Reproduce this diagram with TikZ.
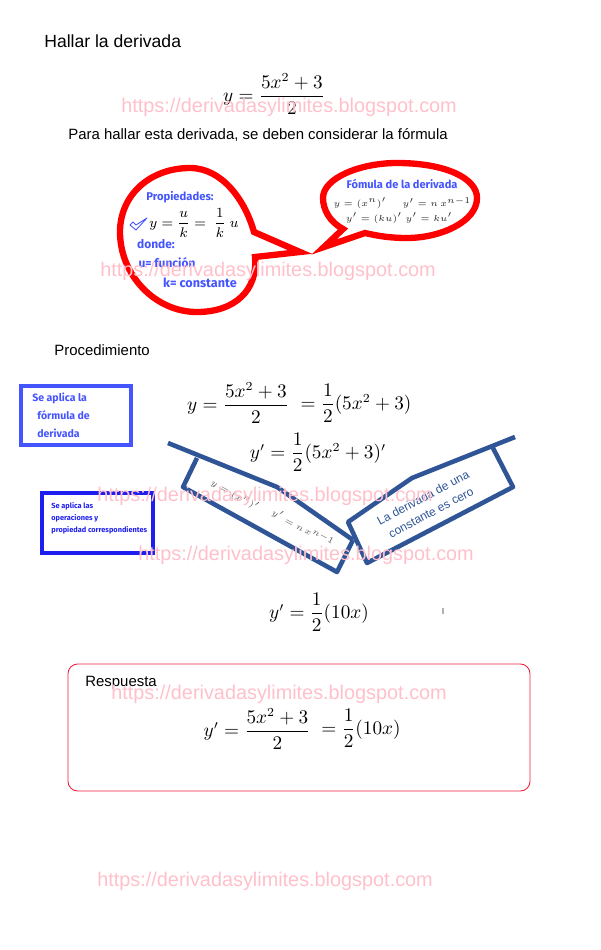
\documentclass[tikz,border=0pt]{standalone}
\usepackage{amsmath}
\usepackage{amssymb}
\usepackage{fontspec}
\setmainfont{Liberation Sans}
\newfontfamily\handfont{Fira Sans}[BoldFont={Fira Sans Bold}]
\usetikzlibrary{positioning}
\definecolor{markColor}{RGB}{255,192,203}
\definecolor{noteColor}{RGB}{68,84,255}
\definecolor{deepColor}{RGB}{30,30,240}
\definecolor{bandColor}{RGB}{47,85,151}
\definecolor{balloonColor}{RGB}{255,0,0}
\definecolor{boxColor}{RGB}{240,30,60}

\begin{document}
\begin{tikzpicture}[x=0.02cm,y=-0.02cm]

          \tikzstyle{normalNode} = [black, inner sep=0pt, font=\fontsize{10}{12}\selectfont];
          \tikzstyle{mathNode} = [black, inner sep=0pt, font=\fontsize{10.5}{13}\selectfont];
          \tikzstyle{smallMath} = [black!85, inner sep=0pt, font=\fontsize{5.4}{7}\selectfont];
          \tikzstyle{noteNode} = [noteColor, inner sep=0pt, align=left, font=\handfont\bfseries\fontsize{6.8}{13}\selectfont];
          \tikzstyle{tinyNote} = [deepColor, inner sep=0pt, align=left, font=\handfont\bfseries\fontsize{4.2}{7}\selectfont];
          \tikzstyle{markNode} = [markColor, inner sep=0pt, font=\fontsize{11.3}{13}\selectfont];
          \tikzstyle{bandText} = [bandColor, inner sep=0pt, align=center, font=\fontsize{6.8}{9.5}\selectfont];

          \tikzstyle{balloonEdge} = [balloonColor, line width=3.6pt, miter limit=20, fill=white];
          \tikzstyle{bandEdge} = [bandColor, line width=2.6pt, line join=round];
          \tikzstyle{noteBox} = [noteColor, line width=2.3pt];
          \tikzstyle{deepBox} = [deepColor, line width=2.3pt];

          \useasboundingbox (0,0) rectangle (600,950);

          % titles
          \node[normalNode, anchor=west] (title) at (44,41) {Hallar la derivada};
          \node[mathNode] (given) at (274,94) {$y=\dfrac{5x^2+3}{2}$};
          \node[normalNode, anchor=west, font=\fontsize{8.5}{10}\selectfont] (intro) at (68,135) {Para hallar esta derivada, se deben considerar la fórmula};

          % balloons
          \draw[balloonEdge] (343,229) .. controls (330,222) and (323,210) .. (323,198)
            .. controls (323,178) and (360,163) .. (397,163)
            .. controls (445,163) and (477,178) .. (477,198)
            .. controls (477,222) and (440,238) .. (407,238)
            .. controls (390,238) and (378,236) .. (365,233)
            -- (324,247) -- cycle;
          \draw[balloonEdge] (254,232) .. controls (245,200) and (222,168) .. (190,168)
            .. controls (150,168) and (120,195) .. (120,232)
            .. controls (120,275) and (155,312) .. (197,312)
            .. controls (235,312) and (258,290) .. (255,257)
            -- (300,252) -- cycle;

          \node[noteNode, font=\handfont\bfseries\fontsize{6.4}{8}\selectfont] (props) at (180,197) {Propiedades:};
          \node[mathNode, font=\fontsize{7.6}{9}\selectfont] (rule) at (194,223) {$y=\dfrac{u}{k}=\ \dfrac{1}{k}\ u$};
          \draw[noteColor, line width=0.5pt, line join=round] (130,225) -- (136,230) -- (147,218) -- (136,225) -- (133,222) -- cycle;
          \node[noteNode] (where) at (156,244) {donde:};
          \node[noteNode] (fun) at (167,263) {u= función};
          \node[noteNode, font=\handfont\bfseries\fontsize{7.2}{9}\selectfont] (const) at (200,283) {k= constante};
          \node[noteNode, font=\handfont\bfseries\fontsize{6.3}{8}\selectfont] (formula) at (402,184) {Fómula de la derivada};
          \node[smallMath] (powA) at (360,203) {$y=(x^n)'$};
          \node[smallMath] (powB) at (437,203) {$y'=n\,x^{n-1}$};
          \node[smallMath] (constA) at (374,218) {$y'=(ku)'$};
          \node[smallMath] (constB) at (429,218) {$y'=ku'$};

          % steps
          \node[normalNode, anchor=west, font=\fontsize{8.5}{10}\selectfont] (steps) at (54,350) {Procedimiento};
          \draw[noteBox] (21,386) rectangle (131,445);
          \node[noteNode, anchor=north west, font=\handfont\bfseries\fontsize{6}{10.2}\selectfont] (noteA) at (32,393) {Se aplica la\\[0pt]\ \ fórmula de\\[0pt]\ \ derivada};
          \draw[deepBox] (42,493) rectangle (153,553);
          \node[tinyNote, anchor=north west] (noteB) at (51,502) {Se aplica las\\operaciones y\\propiedad correspondientes};

          \node[mathNode] (stepA) at (238,403) {$y=\dfrac{5x^2+3}{2}$};
          \node[mathNode] (stepB) at (356,403) {$=\dfrac{1}{2}(5x^2+3)$};
          \node[mathNode] (stepC) at (318,452) {$y'=\dfrac{1}{2}(5x^2+3)'$};
          \node[mathNode] (stepD) at (319,612) {$y'=\dfrac{1}{2}(10x)$};
          \fill[gray!60] (442,608) rectangle (444,614);

          % tilted notes
          \draw[bandEdge] (168,443) -- (277,487) -- (353,540);
          \draw[bandEdge] (197,458) -- (183,487) -- (337,572) -- (353,540);
          \draw[bandEdge] (515,437) -- (412,478) -- (348,522) -- (367,563) -- (513,487) -- (493,448);
          \node[smallMath, rotate=-29, gray!70!black] (tiltA) at (235,495) {$y=(x^n)'$};
          \node[smallMath, rotate=-29, gray!70!black] (tiltB) at (303,528) {$y'=n\,x^{n-1}$};
          \node[bandText, rotate=28] (tiltC) at (427,505) {La derivada de una\\constante es cero};

          % answer
          \draw[boxColor, rounded corners=5.5pt, line width=0.5pt] (68,664) rectangle (530,791);
          \node[normalNode, anchor=west, font=\fontsize{8.5}{10}\selectfont] (answer) at (85,683) {Respuesta};
          \node[mathNode] (ansA) at (257,729) {$y'=\dfrac{5x^2+3}{2}$};
          \node[mathNode] (ansB) at (361,728) {$=\dfrac{1}{2}(10x)$};

          % watermarks
          \foreach \px/\py in {121/107, 100/271, 97/496, 138/555, 111/694, 97/881}{
            \node[markNode, anchor=west] at (\px,\py) {https://derivadasylimites.blogspot.com};
          }
\end{tikzpicture}
\end{document}
